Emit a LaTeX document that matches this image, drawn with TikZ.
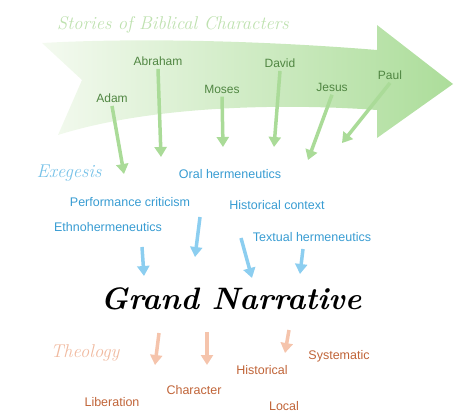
\documentclass[tikz,border=0pt]{standalone}
\usepackage{fontspec}
\usepackage{tikz}
\usetikzlibrary{arrows.meta}
\newfontfamily\labelfont{Liberation Sans}
\definecolor{storygreen}{RGB}{80,134,66}
\definecolor{pointgreen}{RGB}{170,219,152}
\definecolor{titlegreen}{RGB}{190,225,175}
\definecolor{bandlight}{RGB}{244,250,240}
\definecolor{bandgreen}{RGB}{172,221,154}
\definecolor{exegblue}{RGB}{56,156,210}
\definecolor{pointblue}{RGB}{140,206,240}
\definecolor{titleblue}{RGB}{120,194,232}
\definecolor{theoorange}{RGB}{192,100,56}
\definecolor{pointorange}{RGB}{245,196,172}
\definecolor{titleorange}{RGB}{240,186,160}

\begin{document}
\begin{tikzpicture}[x=1pt,y=-1pt,
    headline/.style={font=\itshape\fontsize{18.5}{18.5}\selectfont},
    storyname/.style={font=\labelfont\fontsize{12}{14}\selectfont, text=storygreen},
    exegname/.style={font=\labelfont\fontsize{12.5}{14}\selectfont, text=exegblue},
    theoname/.style={font=\labelfont\fontsize{12.5}{14}\selectfont, text=theoorange},
    pointer/.style={line width=3.5pt, -{Triangle[width=12pt,length=10pt]}}]
    \useasboundingbox (0,0) rectangle (474,414);

    % The big curved arrow behind the stories
    \shade[left color=bandlight, right color=bandgreen]
        (42,43) .. controls (150,37) and (280,42) .. (377,50) -- (377,25) -- (453,84)
        -- (377,138) -- (377,110) .. controls (280,103) and (150,106) .. (58,135)
        -- (82,80) -- cycle;

    % Stories of biblical characters
    \node[headline, text=titlegreen] (stories) at (173,25) {Stories of Biblical Characters};
    \node[storyname] (adam) at (112,98) {Adam};
    \node[storyname] (abraham) at (158,61) {Abraham};
    \node[storyname] (moses) at (222,89) {Moses};
    \node[storyname] (david) at (280,63) {David};
    \node[storyname] (jesus) at (332,87) {Jesus};
    \node[storyname] (paul) at (390,75) {Paul};

    \coordinate (adamtip) at (124,174);
    \coordinate (abrahamtip) at (161,157);
    \coordinate (mosestip) at (223,147);
    \coordinate (davidtip) at (274,147);
    \coordinate (jesustip) at (308,160);
    \coordinate (paultip) at (342,143);

    \draw[pointer, pointgreen] (adam.south) -- (adamtip);
    \draw[pointer, pointgreen] (abraham.south) -- (abrahamtip);
    \draw[pointer, pointgreen] (moses.south) -- (mosestip);
    \draw[pointer, pointgreen] (david.south) -- (davidtip);
    \draw[pointer, pointgreen] (jesus.south) -- (jesustip);
    \draw[pointer, pointgreen] (paul.south) -- (paultip);

    % Exegesis
    \node[headline, text=titleblue] (exegesis) at (69,173) {Exegesis};
    \node[exegname] (oral) at (230,174) {Oral hermeneutics};
    \node[exegname] (performance) at (130,202) {Performance criticism};
    \node[exegname] (historicalctx) at (277,205) {Historical context};
    \node[exegname] (ethno) at (108,227) {Ethnohermeneutics};
    \node[exegname] (textual) at (312,237) {Textual hermeneutics};

    \coordinate (ethnostart) at (142,247);
    \coordinate (ethnotip) at (144,276);
    \coordinate (perfstart) at (200,217);
    \coordinate (perftip) at (195,257);
    \coordinate (histstart) at (241,238);
    \coordinate (histtip) at (252,278);
    \coordinate (textstart) at (303,249);
    \coordinate (texttip) at (300,274);

    \draw[pointer, pointblue] (ethnostart) -- (ethnotip);
    \draw[pointer, pointblue] (perfstart) -- (perftip);
    \draw[pointer, pointblue] (histstart) -- (histtip);
    \draw[pointer, pointblue] (textstart) -- (texttip);

    % Grand narrative
    \node[font=\bfseries\itshape\fontsize{31}{31}\selectfont] (grand) at (231,299) {Grand Narrative};

    % Theology
    \node[headline, text=titleorange] (theology) at (85,353) {Theology};
    \node[theoname] (systematic) at (339,356) {Systematic};
    \node[theoname] (historical) at (262,370) {Historical};
    \node[theoname] (character) at (194,390) {Character};
    \node[theoname] (liberation) at (112,402) {Liberation};
    \node[theoname] (local) at (284,406) {Local};

    \coordinate (leftstart) at (159,333);
    \coordinate (lefttip) at (155,365);
    \coordinate (midstart) at (207,332);
    \coordinate (midtip) at (207,365);
    \coordinate (rightstart) at (289,330);
    \coordinate (righttip) at (285,353);

    \draw[pointer, pointorange] (leftstart) -- (lefttip);
    \draw[pointer, pointorange] (midstart) -- (midtip);
    \draw[pointer, pointorange] (rightstart) -- (righttip);
\end{tikzpicture}
\end{document}
